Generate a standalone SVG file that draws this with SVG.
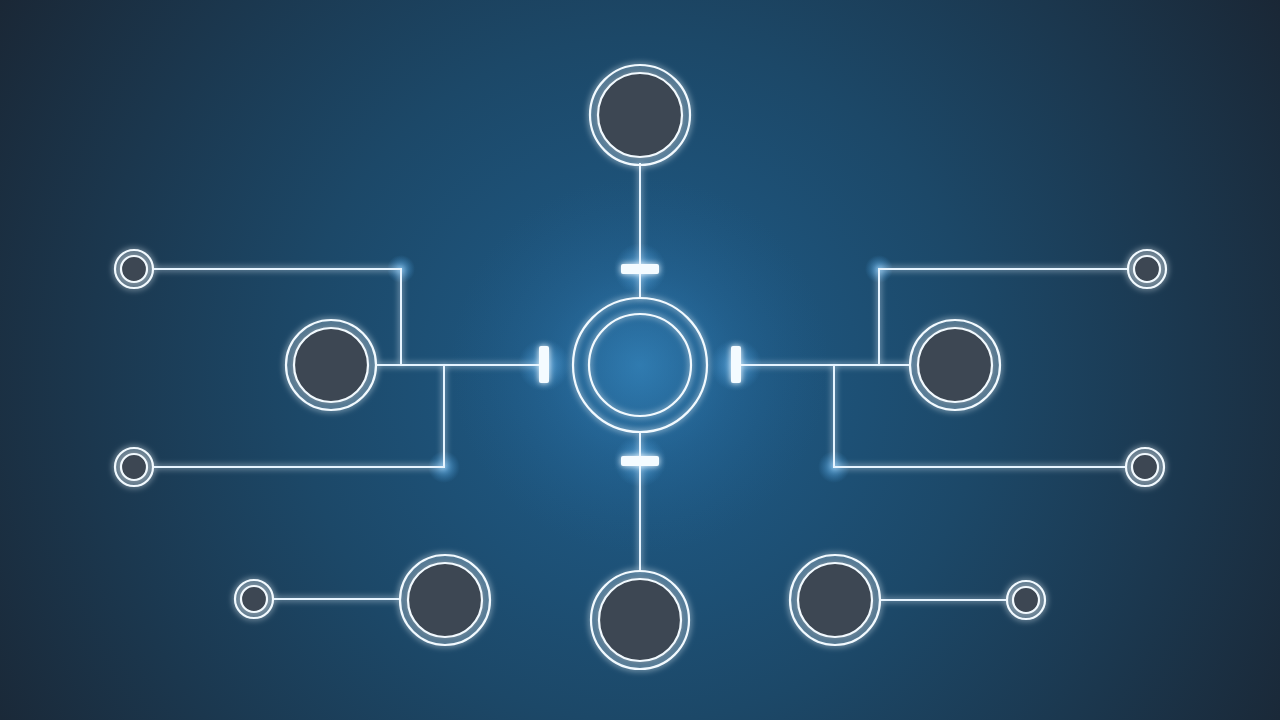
<svg xmlns="http://www.w3.org/2000/svg" width="1280" height="720" viewBox="0 0 1280 720">
<defs>
<radialGradient id="bg" cx="640" cy="380" r="760" gradientUnits="userSpaceOnUse">
<stop offset="0" stop-color="#1f5e8c"/>
<stop offset="0.45" stop-color="#1c4868"/>
<stop offset="1" stop-color="#1a2634"/>
</radialGradient>
<radialGradient id="cglow" cx="640" cy="365" r="190" gradientUnits="userSpaceOnUse">
<stop offset="0" stop-color="#4aa8e8" stop-opacity="0.4"/>
<stop offset="0.5" stop-color="#3a8ccc" stop-opacity="0.15"/>
<stop offset="1" stop-color="#2a6fa8" stop-opacity="0"/>
</radialGradient>
<radialGradient id="spot">
<stop offset="0" stop-color="#7cc8ff" stop-opacity="0.7"/>
<stop offset="1" stop-color="#4aa0e0" stop-opacity="0"/>
</radialGradient>
<filter id="glow" x="-30%" y="-30%" width="160%" height="160%">
<feGaussianBlur in="SourceGraphic" stdDeviation="3" result="b"/>
<feMerge><feMergeNode in="b"/><feMergeNode in="SourceGraphic"/></feMerge>
</filter>
</defs>
<style>
.ln{stroke:#e6f4ff;stroke-width:2;fill:none}
.ring{stroke:#f2faff;stroke-width:2.2;fill:none}
.core{fill:#3d4752}
.bar{fill:#f4fbff}
</style>
<rect width="1280" height="720" fill="url(#bg)"/>
<circle cx="640" cy="365" r="190" fill="url(#cglow)"/>
<circle cx="401" cy="269" r="14" fill="url(#spot)"/>
<circle cx="444" cy="467" r="16" fill="url(#spot)"/>
<circle cx="879" cy="269" r="14" fill="url(#spot)"/>
<circle cx="834" cy="467" r="16" fill="url(#spot)"/>
<circle cx="640" cy="269" r="26" fill="url(#spot)"/>
<circle cx="640" cy="461" r="26" fill="url(#spot)"/>
<circle cx="544" cy="365" r="26" fill="url(#spot)"/>
<circle cx="736" cy="365" r="26" fill="url(#spot)"/>

<g id="connectors" filter="url(#glow)">
<path class="ln" d="M640 163 V298 M640 432 V572"/>
<path class="ln" d="M376 365 H540 M153 269 H401 V365 M444 365 V467 H153"/>
<path class="ln" d="M740 365 H910 M1128 269 H879 V365 M834 365 V467 H1126"/>
<path class="ln" d="M273 599 H400 M880 600 H1007"/>
</g>

<g id="center" filter="url(#glow)">
<circle cx="640" cy="365" r="67" class="ring"/>
<circle cx="640" cy="365" r="51" class="ring"/>
<rect class="bar" x="621" y="264" width="38" height="10" rx="2"/>
<rect class="bar" x="621" y="456" width="38" height="10" rx="2"/>
<rect class="bar" x="539" y="346" width="10" height="37" rx="2"/>
<rect class="bar" x="731" y="346" width="10" height="37" rx="2"/>
</g>

<g id="node-top" filter="url(#glow)"><circle cx="640" cy="115" r="42" class="core"/><circle cx="640" cy="115" r="50" class="ring"/><circle cx="640" cy="115" r="42" class="ring"/></g>
<g id="node-bottom" filter="url(#glow)"><circle cx="640" cy="620" r="41" class="core"/><circle cx="640" cy="620" r="49" class="ring"/><circle cx="640" cy="620" r="41" class="ring"/></g>
<g id="node-left" filter="url(#glow)"><circle cx="331" cy="365" r="37" class="core"/><circle cx="331" cy="365" r="45" class="ring"/><circle cx="331" cy="365" r="37" class="ring"/></g>
<g id="node-right" filter="url(#glow)"><circle cx="955" cy="365" r="37" class="core"/><circle cx="955" cy="365" r="45" class="ring"/><circle cx="955" cy="365" r="37" class="ring"/></g>
<g id="node-bottom-left" filter="url(#glow)"><circle cx="445" cy="600" r="37" class="core"/><circle cx="445" cy="600" r="45" class="ring"/><circle cx="445" cy="600" r="37" class="ring"/></g>
<g id="node-bottom-right" filter="url(#glow)"><circle cx="835" cy="600" r="37" class="core"/><circle cx="835" cy="600" r="45" class="ring"/><circle cx="835" cy="600" r="37" class="ring"/></g>

<g id="small-tl" filter="url(#glow)"><circle cx="134" cy="269" r="13" class="core"/><circle cx="134" cy="269" r="19" class="ring"/><circle cx="134" cy="269" r="13" class="ring"/></g>
<g id="small-bl" filter="url(#glow)"><circle cx="134" cy="467" r="13" class="core"/><circle cx="134" cy="467" r="19" class="ring"/><circle cx="134" cy="467" r="13" class="ring"/></g>
<g id="small-tr" filter="url(#glow)"><circle cx="1147" cy="269" r="13" class="core"/><circle cx="1147" cy="269" r="19" class="ring"/><circle cx="1147" cy="269" r="13" class="ring"/></g>
<g id="small-br" filter="url(#glow)"><circle cx="1145" cy="467" r="13" class="core"/><circle cx="1145" cy="467" r="19" class="ring"/><circle cx="1145" cy="467" r="13" class="ring"/></g>
<g id="small-bottom-left" filter="url(#glow)"><circle cx="254" cy="599" r="13" class="core"/><circle cx="254" cy="599" r="19" class="ring"/><circle cx="254" cy="599" r="13" class="ring"/></g>
<g id="small-bottom-right" filter="url(#glow)"><circle cx="1026" cy="600" r="13" class="core"/><circle cx="1026" cy="600" r="19" class="ring"/><circle cx="1026" cy="600" r="13" class="ring"/></g>
</svg>
